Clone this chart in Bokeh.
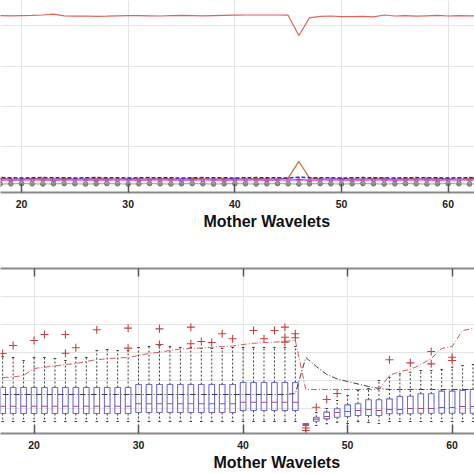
from bokeh.plotting import figure
from bokeh.layouts import column
from bokeh.models import FixedTicker, Range1d, Title, LinearAxis
from bokeh.embed import file_html
from bokeh.resources import INLINE

# ---------------- upper panel: scores per mother wavelet ----------------
wave_x = list(range(17, 64))
score_main = [85.1, 85.1, 85.0, 85.1, 85.2, 85.4, 85.8, 85.0, 84.8, 84.9,
              84.7, 84.8, 85.0, 85.1, 85.1, 85.0, 84.9, 85.1, 85.2, 85.1,
              85.0, 85.1, 85.2, 85.3, 85.4, 85.4, 85.4, 85.4, 85.3, 75.2,
              84.0, 84.7, 84.9, 84.6, 84.6, 84.7, 84.5, 85.4, 84.9, 85.1,
              84.8, 85.0, 85.2, 84.9, 85.1, 85.0, 85.0]
score_blue = [4.6, 4.7, 4.6, 4.5, 4.6, 4.7, 4.6, 4.6, 4.5, 4.6,
              4.7, 4.6, 4.6, 4.5, 4.6, 4.7, 4.6, 4.6, 4.5, 4.6,
              4.7, 4.6, 4.6, 4.5, 4.6, 4.7, 4.6, 4.6, 4.5, 4.9,
              4.7, 4.6, 4.6, 4.5, 4.6, 4.7, 4.6, 4.6, 4.5, 4.6,
              4.7, 4.6, 4.6, 4.5, 4.6, 4.7, 4.6]
score_orange = [4.0, 4.2, 4.1, 4.0, 4.2, 4.1, 4.0, 4.2, 4.1, 4.0,
                4.2, 4.1, 4.0, 4.2, 4.1, 4.0, 4.2, 4.1, 4.0, 4.2,
                4.1, 4.0, 4.2, 4.1, 4.0, 4.2, 4.1, 4.0, 4.4, 12.7,
                4.5, 4.1, 4.0, 4.2, 4.1, 4.0, 4.2, 4.1, 4.0, 4.2,
                4.1, 4.0, 4.2, 4.1, 4.0, 4.2, 4.1]
score_magenta = [3.5, 3.6, 3.4, 3.6, 3.5, 3.6, 3.4, 3.6, 3.5, 3.6,
                 3.4, 3.6, 3.5, 3.6, 3.4, 3.6, 3.5, 3.6, 3.4, 3.6,
                 3.5, 3.6, 3.4, 3.6, 3.5, 3.6, 3.4, 3.6, 3.5, 3.7,
                 3.4, 3.6, 3.5, 3.6, 3.4, 3.6, 3.5, 3.6, 3.4, 3.6,
                 3.5, 3.6, 3.4, 3.6, 3.5, 3.6, 3.4]
score_light = [2.6, 2.4, 2.7, 2.5, 2.6, 2.4, 2.7, 2.5, 2.6, 2.4,
               2.7, 2.5, 2.6, 2.4, 2.7, 2.5, 2.6, 2.4, 2.7, 2.5,
               2.6, 2.4, 2.7, 2.5, 2.6, 2.4, 2.7, 2.5, 2.6, 2.4,
               2.7, 2.5, 2.6, 2.4, 2.7, 2.5, 2.6, 2.4, 2.7, 2.5,
               2.6, 2.4, 2.7, 2.5, 2.6, 2.4, 2.7]
score_gray = [1.6, 1.5, 1.6, 1.7, 1.6, 1.5, 1.6, 1.7, 1.6, 1.5,
              1.6, 1.7, 1.6, 1.5, 1.6, 1.7, 1.6, 1.5, 1.6, 1.7,
              1.6, 1.5, 1.6, 1.7, 1.6, 1.5, 1.6, 1.7, 1.6, 1.5,
              1.6, 1.7, 1.6, 1.5, 1.6, 1.7, 1.6, 1.5, 1.6, 1.7,
              1.6, 1.5, 1.6, 1.7, 1.6, 1.5, 1.6]

tick_values = [20, 30, 40, 50, 60]

# ---------------- lower panel: distribution per mother wavelet ----------------
box_x = list(range(17, 63))
box_hi = [0.571, 0.564, 0.543, 0.564, 0.564, 0.557, 0.543, 0.564, 0.564, 0.614,
          0.621, 0.614, 0.614, 0.636, 0.643, 0.650, 0.643, 0.636, 0.636, 0.629,
          0.629, 0.629, 0.636, 0.636, 0.636, 0.636, 0.636, 0.636, 0.643,
          0.093, 0.171, 0.200, 0.257, 0.293, 0.329, 0.343, 0.400, 0.424, 0.448,
          0.459, 0.471, 0.471, 0.479, 0.495, 0.507, 0.514]
box_q3 = [0.350, 0.350, 0.350, 0.350, 0.350, 0.350, 0.350, 0.350, 0.350, 0.350,
          0.350, 0.350, 0.350, 0.371, 0.371, 0.371, 0.371, 0.371, 0.371, 0.371,
          0.371, 0.371, 0.371, 0.386, 0.386, 0.386, 0.386, 0.386, 0.386,
          0.093, 0.138, 0.174, 0.198, 0.226, 0.234, 0.262, 0.262, 0.269, 0.286,
          0.288, 0.305, 0.305, 0.324, 0.324, 0.329, 0.336]
box_med = [0.216, 0.216, 0.216, 0.216, 0.216, 0.216, 0.216, 0.216, 0.216, 0.216,
           0.216, 0.216, 0.216, 0.234, 0.234, 0.234, 0.234, 0.234, 0.234, 0.234,
           0.234, 0.234, 0.234, 0.245, 0.245, 0.245, 0.245, 0.245, 0.245,
           0.086, 0.124, 0.143, 0.171, 0.179, 0.186, 0.193, 0.186, 0.193, 0.193,
           0.200, 0.200, 0.200, 0.207, 0.207, 0.214, 0.214]
box_q1 = [0.164, 0.164, 0.164, 0.164, 0.164, 0.164, 0.164, 0.164, 0.164, 0.164,
          0.164, 0.164, 0.164, 0.171, 0.171, 0.171, 0.171, 0.171, 0.171, 0.171,
          0.171, 0.171, 0.171, 0.186, 0.186, 0.186, 0.186, 0.186, 0.186,
          0.079, 0.109, 0.126, 0.138, 0.143, 0.150, 0.150, 0.150, 0.162, 0.162,
          0.162, 0.166, 0.166, 0.166, 0.166, 0.166, 0.166]
box_lo = [0.107, 0.107, 0.107, 0.107, 0.107, 0.107, 0.107, 0.107, 0.107, 0.107,
          0.107, 0.107, 0.107, 0.107, 0.107, 0.107, 0.107, 0.107, 0.107, 0.107,
          0.107, 0.107, 0.107, 0.107, 0.107, 0.107, 0.107, 0.107, 0.107,
          0.079, 0.079, 0.091, 0.102, 0.093, 0.107, 0.100, 0.093, 0.107, 0.107,
          0.107, 0.107, 0.107, 0.107, 0.107, 0.107, 0.107]

outlier_x = [17, 18, 20, 21, 23, 23, 24, 26, 29, 29, 32, 32, 35, 35, 36, 37,
             38, 39, 41, 42, 43, 44, 44, 44, 45, 45,
             46, 46, 47, 48, 49, 54, 56, 58, 58, 60, 60]
outlier_y = [0.593, 0.650, 0.686, 0.729, 0.729, 0.595, 0.634, 0.762, 0.774, 0.631,
             0.769, 0.657, 0.781, 0.662, 0.679, 0.671, 0.734, 0.698, 0.757, 0.698,
             0.757, 0.781, 0.709, 0.674, 0.734, 0.705,
             0.061, 0.043, 0.209, 0.264, 0.307, 0.548, 0.526, 0.607, 0.519, 0.566,
             0.543]

trend_red = [0.421, 0.425, 0.436, 0.486, 0.495, 0.504, 0.514, 0.521, 0.536, 0.550,
             0.554, 0.561, 0.564, 0.579, 0.593, 0.602, 0.614, 0.625, 0.629, 0.632,
             0.638, 0.643, 0.646, 0.657, 0.666, 0.671, 0.674, 0.679, 0.686,
             0.336, 0.336, 0.336, 0.336, 0.336, 0.336, 0.336, 0.336, 0.436, 0.464,
             0.479, 0.514, 0.557, 0.629, 0.643, 0.757, 0.771]
trend_black = [0.300, 0.300, 0.300, 0.300, 0.300, 0.300, 0.300, 0.300, 0.300, 0.300,
               0.300, 0.300, 0.300, 0.300, 0.300, 0.300, 0.300, 0.300, 0.300, 0.300,
               0.300, 0.300, 0.300, 0.300, 0.300, 0.300, 0.300, 0.300, 0.307,
               0.564, 0.500, 0.443, 0.411, 0.393, 0.375, 0.357, 0.343, 0.336, 0.336,
               0.336, 0.336, 0.336, 0.336, 0.336, 0.336, 0.336]

FONT = "Liberation Sans"
GRID = "#e4e4e4"


def style_bottom_axis(ax):
    ax.ticker = FixedTicker(ticks=tick_values)
    ax.axis_line_color = "#8a8a8a"
    ax.axis_line_width = 2
    ax.major_tick_in = 9
    ax.major_tick_out = 0
    ax.major_tick_line_color = "#555555"
    ax.major_tick_line_width = 1.5
    ax.minor_tick_line_color = None
    ax.major_label_text_font = FONT
    ax.major_label_text_font_style = "bold"
    ax.major_label_text_font_size = "10.5px"
    ax.major_label_text_color = "#222222"
    ax.major_label_standoff = 7


# ---------------- upper figure ----------------
p1 = figure(frame_width=474, frame_height=192,
            x_range=Range1d(18.03, 62.47), y_range=Range1d(-2.7, 92.6),
            output_backend="svg", toolbar_location=None,
            min_border_left=0, min_border_right=0, min_border_top=0,
            min_border_bottom=48)
p1.outline_line_color = None
p1.background_fill_color = "white"
p1.yaxis.visible = False
style_bottom_axis(p1.xaxis[0])
p1.xgrid.ticker = FixedTicker(ticks=tick_values)
p1.ygrid.ticker = FixedTicker(ticks=[20, 40, 60, 80])
p1.xgrid.grid_line_color = GRID
p1.ygrid.grid_line_color = GRID

p1.line(wave_x, score_main, line_color="#e0625c", line_width=1.2)
p1.line(wave_x, score_gray, line_color="#9a9a9a", line_width=1)
p1.scatter(wave_x, score_gray, marker="circle", size=4.5,
           fill_color="#8c8c8c", line_color="#707070")
p1.scatter(wave_x, score_light, marker="x", size=5, line_color="#b0b0b0")
p1.line(wave_x, score_magenta, line_color="#e020e0", line_width=1.2)
p1.scatter(wave_x, score_magenta, marker="triangle", size=4,
           fill_color=None, line_color="#c040c0")
p1.line(wave_x, score_orange, line_color="#c8641e", line_width=1.2)
p1.line(wave_x, score_blue, line_color="#2020ff", line_width=1.5,
        line_dash="4 2")

t1 = Title(text="Mother Wavelets", align="left", offset=203,
           text_font=FONT, text_font_size="16px", text_font_style="bold",
           text_color="#111111", standoff=0)
p1.add_layout(t1, "below")

# ---------------- lower figure ----------------
p2 = figure(frame_width=474, frame_height=165,
            x_range=Range1d(16.79, 62.14), y_range=Range1d(0.0214, 1.2),
            output_backend="svg", toolbar_location=None,
            min_border_left=0, min_border_right=0, min_border_top=28,
            min_border_bottom=41)
p2.outline_line_color = None
p2.background_fill_color = "white"
p2.yaxis.visible = False
style_bottom_axis(p2.xaxis[0])
p2.xgrid.ticker = FixedTicker(ticks=tick_values)
p2.ygrid.ticker = FixedTicker(ticks=[0.2, 0.4, 0.6, 0.8, 1.0])
p2.xgrid.grid_line_color = GRID
p2.ygrid.grid_line_color = GRID

top_axis = LinearAxis(ticker=FixedTicker(ticks=tick_values),
                      major_label_overrides={v: "" for v in tick_values},
                      major_label_text_font_size="1px",
                      major_label_standoff=0,
                      axis_line_color="#8a8a8a", axis_line_width=2,
                      major_tick_in=8, major_tick_out=0,
                      major_tick_line_color="#555555", major_tick_line_width=1.5,
                      minor_tick_line_color=None)
p2.add_layout(top_axis, "above")

half = 0.27
cap = 0.12
x_left = [v - half for v in box_x]
x_right = [v + half for v in box_x]
cap_left = [v - cap for v in box_x]
cap_right = [v + cap for v in box_x]

# whiskers
p2.segment(box_x, box_q3, box_x, box_hi, line_color="#3a3a3a", line_width=1,
           line_dash="2 2")
p2.segment(box_x, box_q1, box_x, box_lo, line_color="#3a3a3a", line_width=1,
           line_dash="2 2")
p2.segment(cap_left, box_hi, cap_right, box_hi, line_color="#3a3a3a", line_width=1)
p2.segment(cap_left, box_lo, cap_right, box_lo, line_color="#3a3a3a", line_width=1)
# boxes and medians
p2.vbar(x=box_x, width=2 * half, top=box_q3, bottom=box_q1,
        fill_color="white", fill_alpha=0.0, line_color="#6c6cd4", line_width=1.1)
p2.segment(x_left, box_med, x_right, box_med, line_color="#a0507a", line_width=1.1)
# outliers
p2.scatter(outlier_x, outlier_y, marker="cross", size=8, line_color="#c84040",
           line_width=1.1)
# trend lines
p2.line(box_x, trend_black, line_color="#404040", line_width=1,
        line_dash="6 2 1 2")
p2.line(box_x, trend_red, line_color="#d45a5a", line_width=1,
        line_dash="6 2 1 2")

t2 = Title(text="Mother Wavelets", align="left", offset=213,
           text_font=FONT, text_font_size="16px", text_font_style="bold",
           text_color="#111111", standoff=0)
p2.add_layout(t2, "below")

layout = column(p1, p2, spacing=0)
open("out.html", "w").write(file_html(layout, INLINE))
